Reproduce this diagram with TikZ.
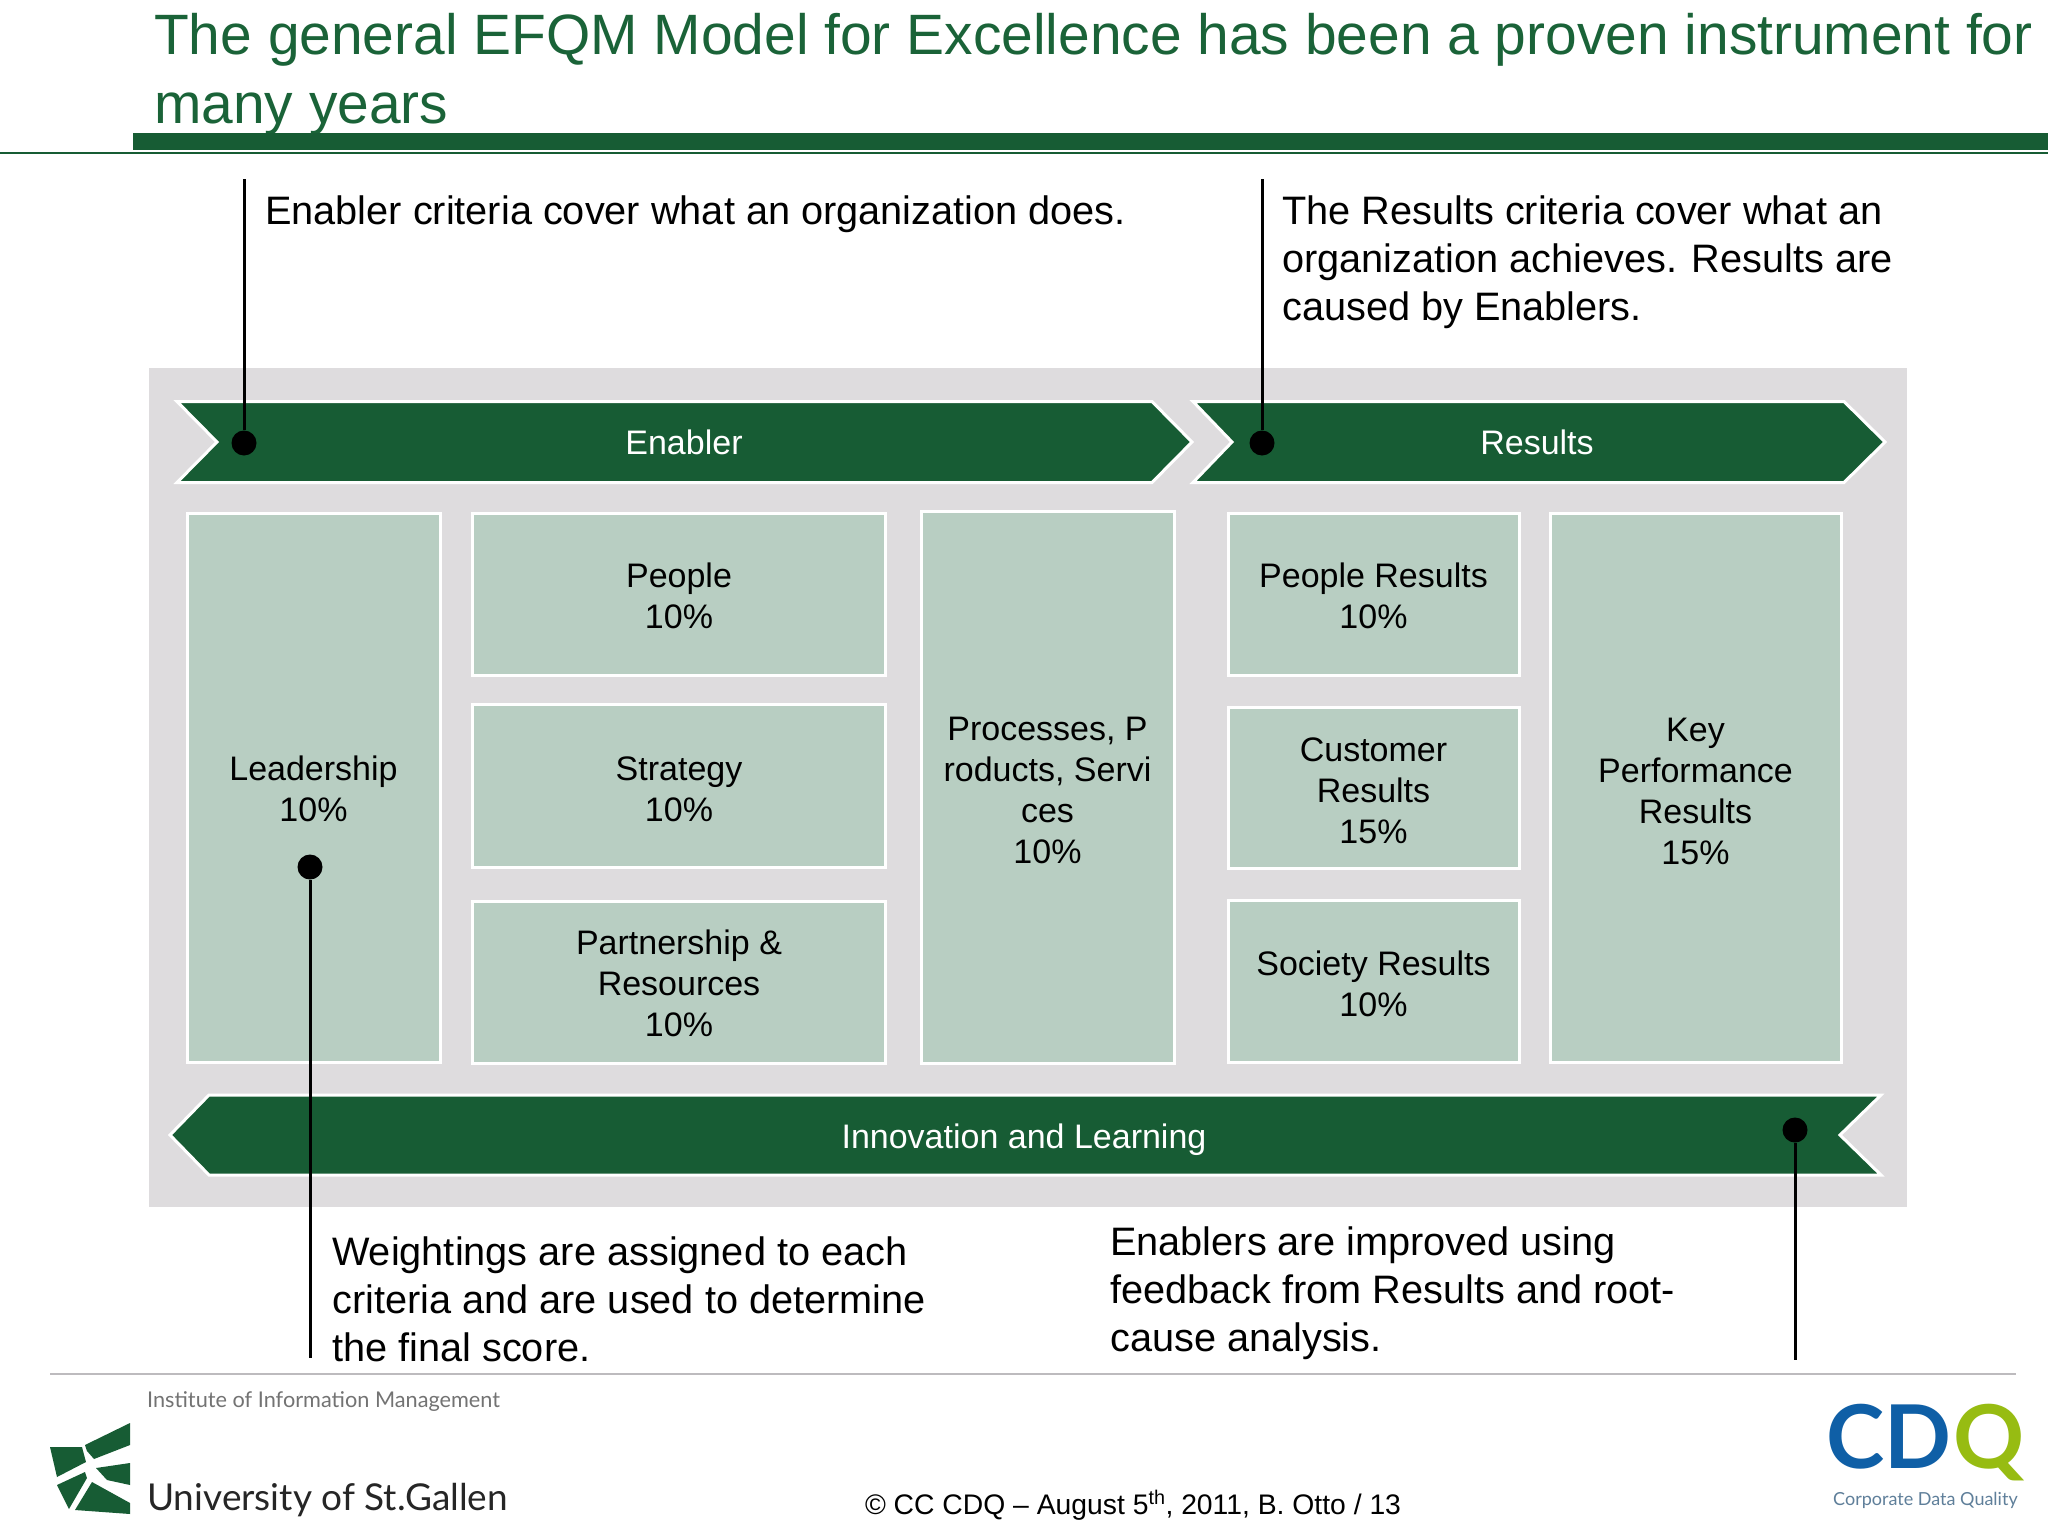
\documentclass[tikz,border=0pt]{standalone}
\usepackage{fontspec}
\setmainfont{Liberation Sans}
\newfontfamily\gillfont{Lato}
\definecolor{dkgreen}{HTML}{175C34}
\definecolor{titlegreen}{HTML}{1A6338}
\definecolor{palegreen}{HTML}{B8CEC2}
\definecolor{panelgrey}{HTML}{DEDCDE}
\definecolor{rulegrey}{HTML}{BDBBBE}
\definecolor{cdqblue}{HTML}{0F5FA6}
\definecolor{cdqgreen}{HTML}{97BC12}
\definecolor{cdqgrey}{HTML}{5F7F9A}
\newcommand{\fa}{\rule{0pt}{28pt}}
\newcommand{\fb}{\rule{0pt}{30.5pt}}
\tikzset{
  x=1pt,y=-1pt,
  critbox/.style={draw=white,line width=3pt,fill=palegreen,inner sep=0pt,outer sep=0pt,align=center,text=black,font=\fontsize{34}{41}\selectfont},
  bandshape/.style={draw=white,line width=3pt,fill=dkgreen,line join=miter},
  bandtext/.style={text=white,inner sep=0pt,font=\fontsize{34}{41}\selectfont},
  callout/.style={anchor=north west,inner sep=0pt,align=left,text=black,font=\fontsize{39.7}{47.7}\selectfont},
  dotmark/.style={circle,fill=black,inner sep=0pt,minimum size=25pt},
  leader/.style={draw=black,line width=3pt},
  hsgpiece/.style={fill=dkgreen,draw=none}
}
\begin{document}
\begin{tikzpicture}
\useasboundingbox (0,0) rectangle (2048,1536);
\fill[white] (0,0) rectangle (2048,1536);
% title
\node[anchor=north west,inner sep=0pt,align=left,text=titlegreen,font=\fontsize{56.9}{69}\selectfont] (title) at (154,13) {The general EFQM Model for Excellence has been a proven instrument for\\many years};
\fill[dkgreen] (133,133) rectangle (2048,150);
\fill[dkgreen] (0,152) rectangle (2048,154);
% panel
\fill[panelgrey] (149,368) rectangle (1907,1207);
% bands
\draw[bandshape] (177,401.5) -- (1152,401.5) -- (1192,442) -- (1152,482.5) -- (177,482.5) -- (217,442) -- cycle;
\draw[bandshape] (1193,401.5) -- (1844,401.5) -- (1885,442) -- (1844,482.5) -- (1193,482.5) -- (1232,442) -- cycle;
\draw[bandshape] (209,1095) -- (1881,1095) -- (1840,1135) -- (1881,1175) -- (209,1175) -- (170,1135) -- cycle;
\node[bandtext] (enabler) at (684,442) {Enabler};
\node[bandtext] (results) at (1537,442) {Results};
\node[bandtext] (innov) at (1024,1140) {Innovation and Learning};
% boxes
\node[critbox,minimum width=253pt,minimum height=549pt] (leadership) at (313.5,787.5) {\fa Leadership\\10\%};
\node[critbox,minimum width=413pt,minimum height=162pt] (people) at (679,594) {\fa People\\10\%};
\node[critbox,minimum width=413pt,minimum height=163pt] (strategy) at (679,785.5) {\fb Strategy\\10\%};
\node[critbox,minimum width=413pt,minimum height=162pt] (partner) at (679,982) {\fa Partnership \&\\Resources\\10\%};
\node[critbox,minimum width=253pt,minimum height=552pt] (processes) at (1047.5,787) {\fb Processes, P\\roducts, Servi\\ces\\10\%};
\node[critbox,minimum width=291pt,minimum height=162pt] (peopleres) at (1373.5,594) {\fa People Results\\10\%};
\node[critbox,minimum width=291pt,minimum height=161pt] (customer) at (1373.5,787.5) {\fb Customer\\Results\\15\%};
\node[critbox,minimum width=291pt,minimum height=162pt] (society) at (1373.5,981) {\fb Society Results\\10\%};
\node[critbox,minimum width=291pt,minimum height=549pt] (keyperf) at (1695.5,787.5) {\fb Key\\Performance\\Results\\15\%};
% callouts
\node[callout] (c1) at (265,196) {Enabler criteria cover what an organization does.};
\node[callout] (c2) at (1282,196) {The Results criteria cover what an\\organization achieves. Results are\\caused by Enablers.};
\node[callout] (c3) at (332,1237) {Weightings are assigned to each\\criteria and are used to determine\\the final score.};
\node[callout] (c4) at (1110,1227) {Enablers are improved using\\feedback from Results and root-\\cause analysis.};
% leaders
\node[dotmark] (d1) at (244,443) {};
\node[dotmark] (d2) at (1262,443) {};
\node[dotmark] (d3) at (310,867) {};
\node[dotmark] (d4) at (1795,1130) {};
\coordinate (e1) at (244,179);
\coordinate (e2) at (1262,179);
\coordinate (e3) at (310,1358);
\coordinate (e4) at (1795,1360);
\draw[leader] (e1) -- (d1);
\draw[leader] (e2) -- (d2);
\draw[leader] (d3) -- (e3);
\draw[leader] (d4) -- (e4);
% footer
\fill[rulegrey] (50,1372.5) rectangle (2016,1375);
\node[anchor=base,inner sep=0pt,font=\fontsize{28.3}{34}\selectfont] (foot) at (1133,1514) {© CC CDQ – August 5\textsuperscript{th}, 2011, B. Otto / 13};
% St Gallen logo
\fill[hsgpiece] (85,1445) -- (130,1423) -- (130,1445) -- (94,1459) -- (87,1451) -- cycle;
\fill[hsgpiece] (50,1447) -- (82,1447) -- (86,1462) -- (57,1477) -- cycle;
\fill[hsgpiece] (96,1468) -- (130,1463) -- (130,1485) -- (107,1480) -- cycle;
\fill[hsgpiece] (57,1485) -- (85,1472) -- (87,1478) -- (69,1509) -- cycle;
\fill[hsgpiece] (75,1510) -- (92,1482) -- (130,1503) -- (130,1514) -- cycle;
\node[anchor=base west,inner sep=0pt,text=black!55,font=\gillfont\fontsize{21.7}{26}\selectfont] (iim) at (147,1407) {Institute of Information Management};
\node[anchor=base west,inner sep=0pt,text=black!85,font=\gillfont\fontsize{37}{44}\selectfont] (hsg) at (147,1510) {University of St.Gallen};
% CDQ logo
\node[anchor=base west,inner sep=0pt,text=cdqblue,font=\gillfont\bfseries\fontsize{88}{90}\selectfont] (cdq1) at (1826,1468) {CD};
\node[anchor=base west,inner sep=0pt,text=cdqgreen,font=\gillfont\bfseries\fontsize{88}{90}\selectfont] (cdq2) at (1953,1468) {Q};
\node[anchor=base west,inner sep=0pt,text=cdqgrey,font=\gillfont\fontsize{18}{22}\selectfont] (cdq3) at (1833,1505) {Corporate Data Quality};
\end{tikzpicture}
\end{document}
